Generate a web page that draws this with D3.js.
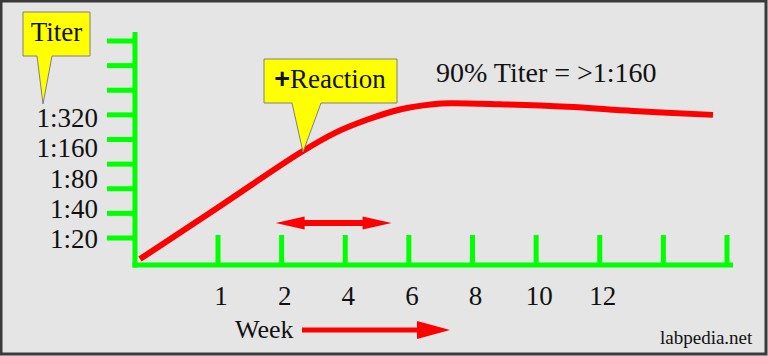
<!DOCTYPE html>
<html><head><meta charset="utf-8">
<script src="https://cdn.jsdelivr.net/npm/d3@7"></script>
<style>html,body{margin:0;padding:0;background:#e5e5e5;overflow:hidden}svg{display:block}</style>
</head><body>
<script>
// ---- data ----
const weekTickLabels = ["1","2","4","6","8","10","12","",""];   // x ticks 1..9
const titerLabels = ["1:320","1:160","1:80","1:40","1:20"];     // left labels (top to bottom)
const curveWeekPos = [0.06, 1.03, 2.29, 2.84, 3.34, 3.86, 4.38, 4.65, 5.43, 6.49, 7.53, 8.78];
const curveTiterLevel = [0.22, 2.29, 4.46, 5.27, 5.80, 6.22, 6.43, 6.47, 6.43, 6.33, 6.16, 6.0];
const reactionSpan = [2.0, 3.65];

const W = 768, H = 356;
const green = "#00ff00", red = "#ff0000";
const serif = "'Liberation Serif','Times New Roman',serif";

const svg = d3.select("body").append("svg").attr("width", W).attr("height", H);
svg.append("rect").attr("x",1).attr("y",1).attr("width",W-3).attr("height",H-3)
  .attr("fill","#e5e5e5").attr("stroke","#3a3a3a").attr("stroke-width",3);

const x = d3.scaleLinear().domain([0,1,9]).range([135,218,727]);
const y = d3.scaleLinear().domain([0,1,9]).range([265,238,41]);
const labelY = d3.scalePoint().domain(titerLabels).range([127,248]);

// axes
const g = svg.append("g");
g.append("line").attr("x1",x(0)).attr("x2",x(0)).attr("y1",32).attr("y2",y(0)+2.5)
  .attr("stroke",green).attr("stroke-width",5);
g.append("line").attr("x1",x(0)-2.5).attr("x2",x(9)+6).attr("y1",y(0)).attr("y2",y(0))
  .attr("stroke",green).attr("stroke-width",5);
const yTicks = d3.range(1,10);
g.selectAll(".yt").data(yTicks).join("line")
  .attr("x1",107).attr("x2",x(0)).attr("y1",d=>y(d)).attr("y2",d=>y(d))
  .attr("stroke",green).attr("stroke-width",5);
g.selectAll(".xt").data(d3.range(1,10)).join("line")
  .attr("x1",d=>x(d)).attr("x2",d=>x(d)).attr("y1",235).attr("y2",y(0))
  .attr("stroke",green).attr("stroke-width",5);

// tick labels
svg.selectAll(".xl").data(weekTickLabels.map((t,i)=>({t,i:i+1})).filter(d=>d.t)).join("text")
  .attr("x",d=>x(d.i)+3).attr("y",305).attr("text-anchor","middle")
  .attr("font-family",serif).attr("font-size",27).attr("fill","#111").text(d=>d.t);
svg.selectAll(".yl").data(titerLabels).join("text")
  .attr("x",98).attr("y",d=>labelY(d)).attr("text-anchor","end")
  .attr("font-family",serif).attr("font-size",27).attr("fill","#111").text(d=>d);

// curve
const line = d3.line().x(d=>x(d[0])).y(d=>y(d[1])).curve(d3.curveCatmullRom.alpha(0.5));
svg.append("path").datum(curveWeekPos.map((w,i)=>[w,curveTiterLevel[i]]))
  .attr("d",line).attr("fill","none").attr("stroke",red).attr("stroke-width",6)
  .attr("stroke-linecap","butt").attr("stroke-linejoin","round");

// arrows
function arrow(x1,x2,yc,shaft,headL,headH,double){
  let p = `M${x2},${yc} L${x2-headL},${yc-headH} L${x2-headL},${yc-shaft/2} `;
  if(double){
    p += `L${x1+headL},${yc-shaft/2} L${x1+headL},${yc-headH} L${x1},${yc} L${x1+headL},${yc+headH} L${x1+headL},${yc+shaft/2} `;
  } else {
    p += `L${x1},${yc-shaft/2} L${x1},${yc+shaft/2} `;
  }
  p += `L${x2-headL},${yc+shaft/2} L${x2-headL},${yc+headH} Z`;
  svg.append("path").attr("d",p).attr("fill",red);
}
arrow(x(reactionSpan[0])-6, x(reactionSpan[1])+5, 223, 6, 29, 6.5, true);
arrow(302, 450, 330, 5, 33, 9, false);

// callouts
svg.append("path").attr("d","M23,12 H90 V56 H52 L43,104 L37,56 H23 Z")
  .attr("fill","#ffff00").attr("stroke","#808080").attr("stroke-width",1);
svg.append("text").attr("x",56.5).attr("y",41).attr("text-anchor","middle")
  .attr("font-family",serif).attr("font-size",27).attr("fill","#111").text("Titer");

svg.append("path").attr("d","M264,59 H397 V103 H321 L303,152 L292,103 H264 Z")
  .attr("fill","#ffff00").attr("stroke","#808080").attr("stroke-width",1);
const rt = svg.append("text").attr("x",330).attr("y",88).attr("text-anchor","middle")
  .attr("font-family",serif).attr("font-size",27).attr("fill","#111");
rt.append("tspan").attr("font-weight","bold").attr("font-family","'Liberation Sans',Arial,sans-serif").text("+");
rt.append("tspan").text("Reaction");

svg.append("text").attr("x",436).attr("y",82).attr("font-family",serif)
  .attr("font-size",28).attr("fill","#111").text("90% Titer = >1:160");
svg.append("text").attr("x",235).attr("y",338).attr("font-family",serif)
  .attr("font-size",26).attr("fill","#111").text("Week");
svg.append("text").attr("x",660).attr("y",344).attr("font-family",serif)
  .attr("font-size",19).attr("fill","#111").text("labpedia.net");
</script>
</body></html>
